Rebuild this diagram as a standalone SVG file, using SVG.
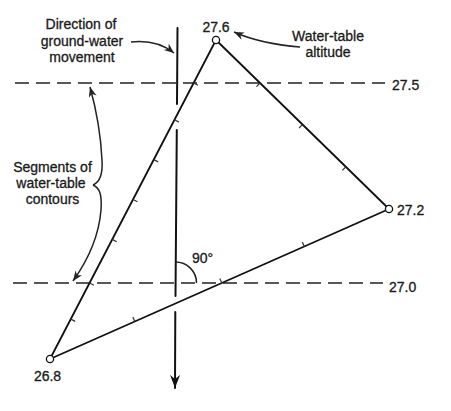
<svg xmlns="http://www.w3.org/2000/svg" width="451" height="411" viewBox="0 0 451 411">
<defs>
<style>
text{font-family:"Liberation Sans",Arial,sans-serif;font-size:14px;fill:#1a1a1a;stroke:#1a1a1a;stroke-width:0.3}
.c{text-anchor:middle}
.edge{stroke:#111;stroke-width:1.8;fill:none;stroke-linecap:round}
.dash{stroke:#222;stroke-width:1.6;fill:none;stroke-dasharray:14 7}
.tick{stroke:#333;stroke-width:1.2;fill:none}
.lead{stroke:#222;stroke-width:1.5;fill:none}
.pt{fill:#fff;stroke:#111;stroke-width:1.3}
</style>
<marker id="ah" markerUnits="userSpaceOnUse" markerWidth="12" markerHeight="10" refX="10" refY="4" orient="auto">
<path d="M0,0 L10,4 L0,8 L3,4 Z" fill="#222"/>
</marker>
<marker id="big" markerUnits="userSpaceOnUse" markerWidth="14" markerHeight="12" refX="13" refY="5" orient="auto">
<path d="M0,0 L13,5 L0,10 L4,5 Z" fill="#111"/>
</marker>
</defs>
<rect width="451" height="411" fill="#fff"/>

<g id="connectors">
<line class="dash" x1="15" y1="83" x2="385" y2="83"/>
<line class="dash" x1="13" y1="283" x2="383" y2="283"/>
<line class="edge" x1="177.5" y1="28" x2="177" y2="104" style="stroke-width:2"/>
<line class="edge" x1="176.8" y1="130" x2="175.5" y2="296" style="stroke-width:2"/>
<path class="edge" d="M175.3,312 L175,388" style="stroke-width:2" marker-end="url(#big)"/>
<path class="lead" d="M175.5,262 A21,21 0 0 1 196.5,283"/>
<path class="edge" d="M216,40 L389,209 L50,359 Z" stroke-linejoin="round"/>
<g class="tick">
<line x1="70.8" y1="319.1" x2="75.2" y2="321.4"/>
<line x1="89.5" y1="283" x2="93.9" y2="285.3"/>
<line x1="112.3" y1="239.4" x2="116.7" y2="241.7"/>
<line x1="133" y1="199.5" x2="137.4" y2="201.8"/>
<line x1="153.8" y1="159.6" x2="158.2" y2="161.9"/>
<line x1="174.5" y1="119.8" x2="178.9" y2="122.1"/>
<line x1="193.6" y1="83" x2="198" y2="85.3"/>
<line x1="260" y1="83" x2="256.5" y2="86.6"/>
<line x1="302.5" y1="124.5" x2="299" y2="128.1"/>
<line x1="345.8" y1="166.8" x2="342.3" y2="170.4"/>
<line x1="134.8" y1="321.5" x2="132.8" y2="316.9"/>
<line x1="221.8" y1="283" x2="219.8" y2="278.4"/>
<line x1="304.3" y1="246.5" x2="302.3" y2="241.9"/>
</g>
<path class="lead" d="M131,42 C150,40 164,45 174,53" marker-end="url(#ah)"/>
<path class="lead" d="M300,47 C275,45 252,40 234,32" marker-end="url(#ah)"/>
<path class="lead" d="M93,185 C100,182 103,175 102,160 C101,140 97,112 90,87" marker-end="url(#ah)"/>
<path class="lead" d="M93,185 C100,188 102,195 101,210 C99,235 88,260 73,281" marker-end="url(#ah)"/>
</g>

<g id="node-27-6"><circle class="pt" cx="216" cy="40" r="3.6"/><text class="c" x="216" y="32">27.6</text></g>
<g id="node-27-2"><circle class="pt" cx="389" cy="209" r="3.6"/><text x="397" y="215">27.2</text></g>
<g id="node-26-8"><circle class="pt" cx="50" cy="359" r="3.6"/><text class="c" x="47.5" y="381">26.8</text></g>
<g id="label-27-5"><text x="392" y="90">27.5</text></g>
<g id="label-27-0"><text x="389" y="292">27.0</text></g>
<g id="label-90"><text x="192" y="263">90°</text></g>
<g id="label-direction">
<text class="c" x="81" y="29">Direction of</text>
<text class="c" x="82" y="46">ground-water</text>
<text class="c" x="82" y="62">movement</text>
</g>
<g id="label-altitude">
<text class="c" x="328" y="41">Water-table</text>
<text class="c" x="328" y="57">altitude</text>
</g>
<g id="label-segments">
<text class="c" x="52.5" y="172">Segments of</text>
<text class="c" x="51" y="188">water-table</text>
<text class="c" x="52.5" y="204">contours</text>
</g>
</svg>
